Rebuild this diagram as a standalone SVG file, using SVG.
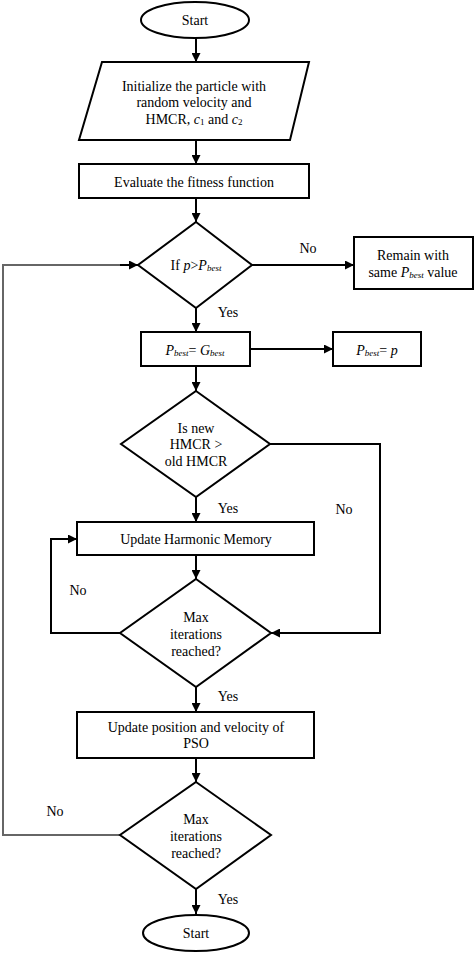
<svg xmlns="http://www.w3.org/2000/svg" width="474" height="953" viewBox="0 0 474 953">
<defs>
<marker id="ah" viewBox="0 0 10 10" refX="10" refY="5" markerWidth="9" markerHeight="9" markerUnits="userSpaceOnUse" orient="auto"><path d="M0,0 L10,5 L0,10 z" fill="#000"/></marker>
<style>
.s{fill:#fff;stroke:#000;stroke-width:2}
.t{font-family:"Liberation Serif","Times New Roman",serif;font-size:14px;fill:#000;text-anchor:middle;dominant-baseline:central}
.i{font-style:italic}
.c{fill:none;stroke:#000;stroke-width:2}
.g{fill:none;stroke:#666;stroke-width:2}
</style>
</defs>
<rect width="474" height="953" fill="#fff"/>
<g id="connectors">
<line class="c" x1="196" y1="39" x2="196" y2="62" marker-end="url(#ah)"/>
<line class="c" x1="196" y1="140" x2="196" y2="164" marker-end="url(#ah)"/>
<line class="c" x1="196" y1="198" x2="196" y2="222" marker-end="url(#ah)"/>
<line class="c" x1="252" y1="265" x2="354" y2="265" marker-end="url(#ah)"/>
<line class="c" x1="196" y1="308" x2="196" y2="332" marker-end="url(#ah)"/>
<line class="c" x1="250" y1="349" x2="333" y2="349" marker-end="url(#ah)"/>
<line class="c" x1="196" y1="366" x2="196" y2="391" marker-end="url(#ah)"/>
<line class="c" x1="196" y1="497" x2="196" y2="522" marker-end="url(#ah)"/>
<polyline class="c" points="270,444 380,444 380,633 271,633" marker-end="url(#ah)"/>
<line class="c" x1="196" y1="555" x2="196" y2="579" marker-end="url(#ah)"/>
<polyline class="c" points="120,633 51,633 51,539 77,539" marker-end="url(#ah)"/>
<line class="c" x1="196" y1="687" x2="196" y2="712" marker-end="url(#ah)"/>
<line class="c" x1="196" y1="758" x2="196" y2="782" marker-end="url(#ah)"/>
<line class="c" x1="196" y1="889" x2="196" y2="914" marker-end="url(#ah)"/>
<polyline class="g" points="120,835 3,835 3,265 138,265"/>
<line class="c" x1="120" y1="265" x2="138" y2="265" marker-end="url(#ah)"/>
<text class="t" x="308" y="248">No</text>
<text class="t" x="228" y="312">Yes</text>
<text class="t" x="228" y="508">Yes</text>
<text class="t" x="344" y="509">No</text>
<text class="t" x="78" y="590">No</text>
<text class="t" x="228" y="696">Yes</text>
<text class="t" x="55" y="811">No</text>
<text class="t" x="228" y="899">Yes</text>
</g>
<g id="start">
<ellipse class="s" cx="195" cy="20" rx="54" ry="18"/>
<text class="t" x="195" y="20">Start</text>
</g>
<g id="init">
<polygon class="s" points="102,62 309,62 290,140 79,140"/>
<text class="t" x="194" y="86">Initialize the particle with</text>
<text class="t" x="194" y="102">random velocity and</text>
<text class="t" x="194" y="119">HMCR, <tspan class="i">c</tspan><tspan font-size="9" dy="3">1</tspan><tspan dy="-3"> and </tspan><tspan class="i">c</tspan><tspan font-size="9" dy="3">2</tspan></text>
</g>
<g id="evaluate">
<rect class="s" x="79" y="164" width="230" height="34"/>
<text class="t" x="194" y="182">Evaluate the fitness function</text>
</g>
<g id="d1">
<polygon class="s" points="196,222 252,265 196,308 138,265"/>
<text class="t" x="196" y="265">If <tspan class="i">p</tspan>&gt;<tspan class="i">P</tspan><tspan class="i" font-size="9" dy="3">best</tspan></text>
</g>
<g id="remain">
<rect class="s" x="354" y="237" width="119" height="52"/>
<text class="t" x="413" y="255">Remain with</text>
<text class="t" x="413" y="272">same <tspan class="i">P</tspan><tspan class="i" font-size="9" dy="3">best</tspan><tspan dy="-3"> value</tspan></text>
</g>
<g id="pg">
<rect class="s" x="141" y="332" width="109" height="34"/>
<text class="t" x="195" y="350"><tspan class="i">P</tspan><tspan class="i" font-size="9" dy="3">best</tspan><tspan dy="-3">= </tspan><tspan class="i">G</tspan><tspan class="i" font-size="9" dy="3">best</tspan></text>
</g>
<g id="pp">
<rect class="s" x="333" y="332" width="88" height="34"/>
<text class="t" x="377" y="350"><tspan class="i">P</tspan><tspan class="i" font-size="9" dy="3">best</tspan><tspan dy="-3">= </tspan><tspan class="i">p</tspan></text>
</g>
<g id="d2">
<polygon class="s" points="196,391 270,444 196,497 121,444"/>
<text class="t" x="196" y="428">Is new</text>
<text class="t" x="196" y="444">HMCR &gt;</text>
<text class="t" x="196" y="461">old HMCR</text>
</g>
<g id="hm">
<rect class="s" x="77" y="522" width="237" height="33"/>
<text class="t" x="196" y="539">Update Harmonic Memory</text>
</g>
<g id="d3">
<polygon class="s" points="196,579 271,633 196,687 120,633"/>
<text class="t" x="196" y="617">Max</text>
<text class="t" x="196" y="634">iterations</text>
<text class="t" x="196" y="651">reached?</text>
</g>
<g id="pso">
<rect class="s" x="77" y="712" width="237" height="46"/>
<text class="t" x="196" y="727">Update position and velocity of</text>
<text class="t" x="196" y="743">PSO</text>
</g>
<g id="d4">
<polygon class="s" points="196,782 271,835 196,889 120,835"/>
<text class="t" x="196" y="819">Max</text>
<text class="t" x="196" y="836">iterations</text>
<text class="t" x="196" y="853">reached?</text>
</g>
<g id="end">
<ellipse class="s" cx="196" cy="933" rx="53" ry="18"/>
<text class="t" x="196" y="933">Start</text>
</g>
</svg>
